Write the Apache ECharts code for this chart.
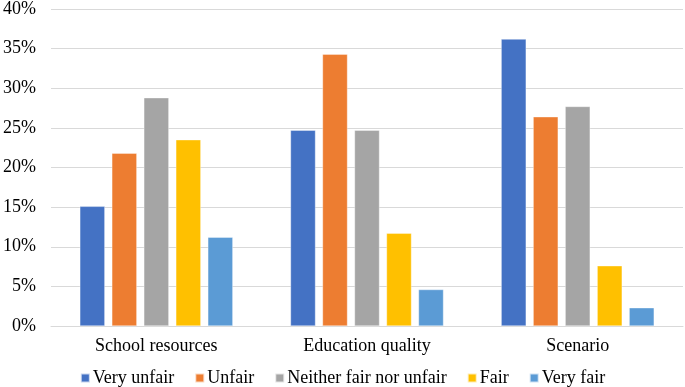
<!DOCTYPE html>
<html>
<head>
<meta charset="utf-8">
<script src="https://cdn.jsdelivr.net/npm/echarts@6/dist/echarts.min.js"></script>
<style>
  html, body { margin: 0; padding: 0; background: #fff; }
  #chart { width: 685px; height: 387px; }
</style>
</head>
<body>
<div id="chart"></div>
<script>
const categories = ['School resources', 'Education quality', 'Scenario'];
const veryUnfair = [15.1, 24.7, 36.2];
const unfair = [21.8, 34.3, 26.4];
const neither = [28.8, 24.7, 27.7];
const fair = [23.5, 11.7, 7.6];
const veryFair = [11.2, 4.6, 2.3];
const yTicks = [0, 5, 10, 15, 20, 25, 30, 35, 40];

const font = 'Liberation Serif, Times New Roman, serif';
const chart = echarts.init(document.getElementById('chart'));

function bar(name, data, color) {
  return {
    name: name, type: 'bar', data: data, barWidth: 25, barGap: '28%',
    itemStyle: { color: color, borderColor: 'rgba(255,255,255,0.7)', borderWidth: 0.5 }
  };
}

const option = {
  backgroundColor: '#ffffff',
  animation: false,
  grid: { left: 48, right: 2, top: 4, bottom: 61 },
  legend: {
    left: 'center', top: 369, padding: 0, itemWidth: 9, itemHeight: 9, itemGap: 20,
    icon: 'rect',
    textStyle: { fontFamily: font, fontSize: 18, color: '#000', padding: [0, 0, 0, -2] }
  },
  xAxis: {
    type: 'category', data: categories,
    axisLine: { lineStyle: { color: '#d9d9d9', width: 1 } },
    axisTick: { show: false },
    axisLabel: { fontFamily: font, fontSize: 18, color: '#000', margin: 11 }
  },
  yAxis: {
    type: 'value', min: yTicks[0], max: yTicks[yTicks.length - 1], interval: 5,
    axisLine: { show: false }, axisTick: { show: false },
    splitLine: { lineStyle: { color: '#d9d9d9', width: 1 } },
    axisLabel: { fontFamily: font, fontSize: 18, color: '#000', margin: 15, formatter: '{value}%' }
  },
  series: [
    bar('Very unfair', veryUnfair, '#4472C4'),
    bar('Unfair', unfair, '#ED7D31'),
    bar('Neither fair nor unfair', neither, '#A5A5A5'),
    bar('Fair', fair, '#FFC000'),
    bar('Very fair', veryFair, '#5B9BD5')
  ]
};
chart.setOption(option);
</script>
</body>
</html>
